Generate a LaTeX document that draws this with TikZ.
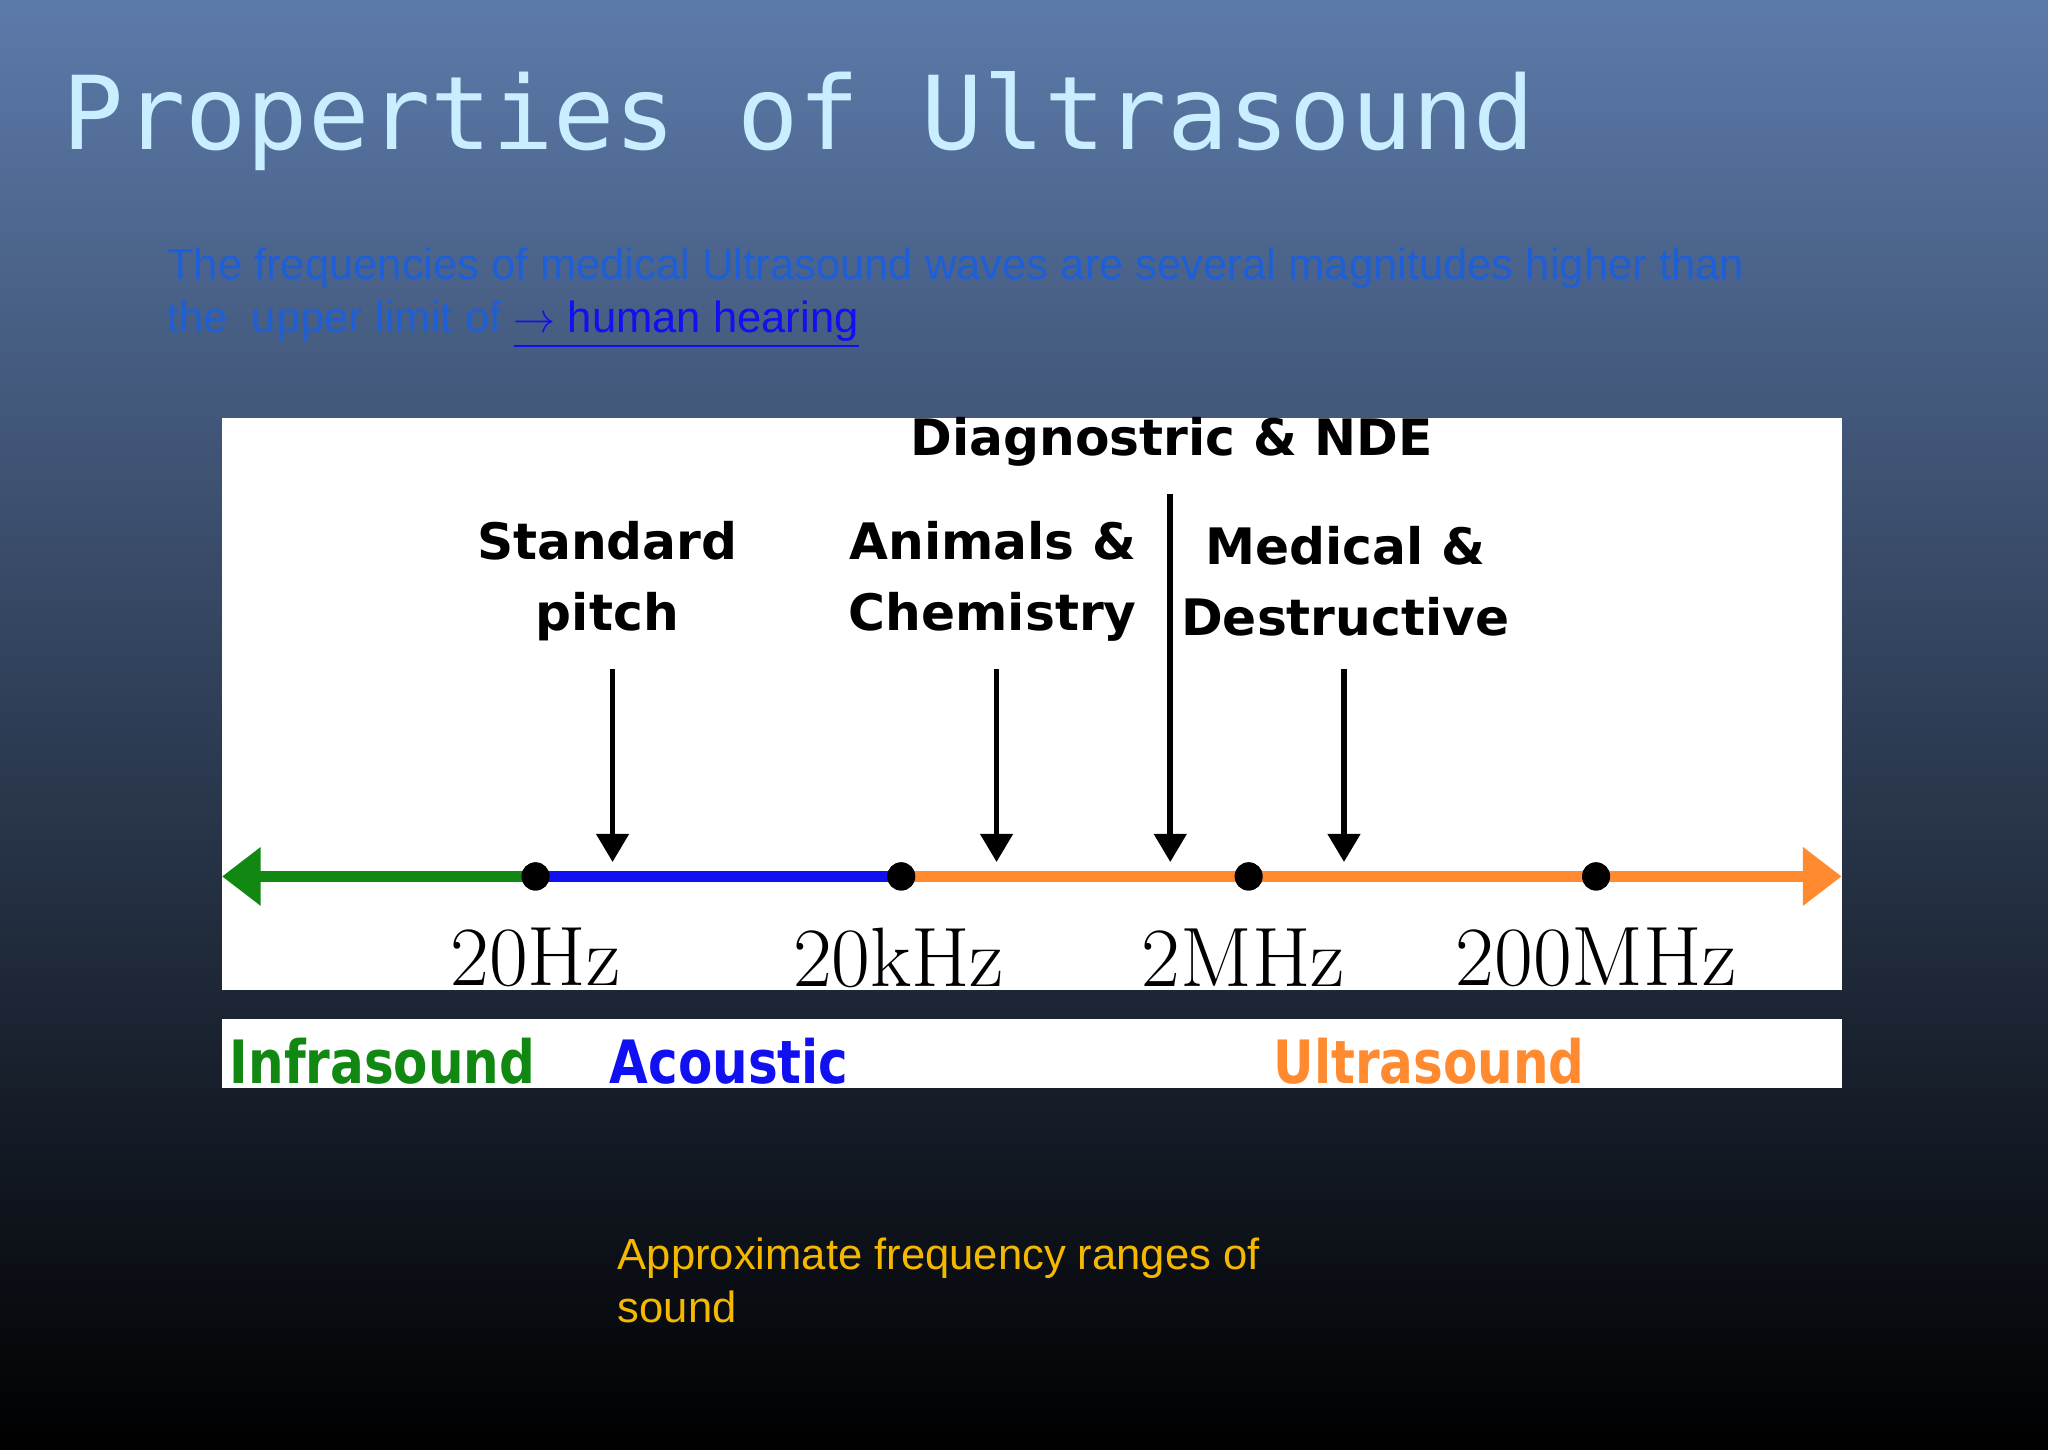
\documentclass[tikz,border=0pt]{standalone}
\usepackage{fontspec}
\setmainfont{Liberation Sans}
\newfontfamily\monofont{DejaVu Sans Mono}
\newfontfamily\labelfont{DejaVu Sans}
\newfontfamily\bandfont{DejaVu Sans Condensed}
\newfontfamily\cmfont{Latin Modern Roman}
\usetikzlibrary{arrows.meta,positioning}
\definecolor{titlecol}{HTML}{C8EEFF}
\definecolor{introcol}{HTML}{1E5FD8}
\definecolor{captcol}{HTML}{F5B800}
\definecolor{infracol}{HTML}{118811}
\definecolor{acoucol}{HTML}{1010F0}
\definecolor{ultracol}{HTML}{FF8A30}

\begin{document}
\begin{tikzpicture}[x=0.01306cm, y=-0.01306cm,
    every node/.style = {inner sep=0pt, outer sep=0pt},
         label/.style = {font=\labelfont\bfseries\fontsize{14.3}{20}\selectfont, align=center, text=black},
          freq/.style = {font=\cmfont\fontsize{24}{26}\selectfont, text=black},
          band/.style = {font=\bandfont\bfseries\fontsize{17}{20}\selectfont, anchor=north west, xscale=0.93},
           dot/.style = {circle, fill=black, minimum size=8pt},
         point/.style = {line width=1.6pt, -{Triangle[width=9pt,length=8pt]}},
          axis/.style = {line width=3pt}]%
  % background
  \useasboundingbox (0,0) rectangle (1568,1110);
  \shade[top color={rgb,255:red,92;green,122;blue,170}, middle color={rgb,255:red,42;green,55;blue,80},
         bottom color=black] (0,0) rectangle (1568,1110);
  % title and intro
  \node (title) [anchor=west, text=titlecol, font=\monofont\fontsize{29}{32}\selectfont]
        at (48,93) {Properties of Ultrasound};
  \node (intro) [anchor=north west, text=introcol, align=left, font=\fontsize{12.4}{14.9}\selectfont]
        at (128,190) {The frequencies of medical Ultrasound waves are several magnitudes higher than\\
        the\ \ upper limit of {\color{acoucol}\underline{$\rightarrow$ human hearing}}};
  % white panels
  \fill[white] (170,320) rectangle (1410,758);
  \fill[white] (170,780) rectangle (1410,833);
  % axis
  \node (p1) [dot] at (410,671) {};
  \node (p2) [dot] at (690,671) {};
  \node (p3) [dot] at (956,671) {};
  \node (p4) [dot] at (1222,671) {};
  \coordinate (lend) at (170,671);
  \coordinate (rend) at (1410,671);
  \draw[axis, infracol, {Triangle[width=16pt,length=11pt]}-] (lend) -- (p1.center);
  \draw[axis, acoucol] (p1.center) -- (p2.center);
  \draw[axis, ultracol, -{Triangle[width=16pt,length=11pt]}] (p2.center) -- (rend);
  \foreach \p in {p1,p2,p3,p4} \node[dot] at (\p) {};
  % frequency labels
  \node (f1) [freq] at (410,733) {20Hz};
  \node (f2) [freq] at (688,733) {20kHz};
  \node (f3) [freq] at (952,733) {2MHz};
  \node (f4) [freq] at (1222,733) {200MHz};
  % application labels
  \node (std) [label] at (465,445) {Standard\\pitch};
  \node (ani) [label] at (760,445) {Animals \&\\Chemistry};
  \node (med) [label] at (1030,445) {Medical \&\\Destructive};
  \node (nde) [label] at (897,338) {Diagnostric \& NDE};
  \coordinate (s1) at (469,512); \coordinate (s2) at (469,660);
  \coordinate (a1) at (763,512); \coordinate (a2) at (763,660);
  \coordinate (d1) at (896,378); \coordinate (d2) at (896,660);
  \coordinate (m1) at (1029,512); \coordinate (m2) at (1029,660);
  \draw[point] (s1) -- (s2);
  \draw[point] (a1) -- (a2);
  \draw[point] (d1) -- (d2);
  \draw[point] (m1) -- (m2);
  % band names
  \begin{scope}
    \clip (170,780) rectangle (1410,833);
    \node (infra) [band, text=infracol] at (176,795) {Infrasound};
    \node (acou)  [band, text=acoucol]  at (467,795) {Acoustic};
    \node (ultra) [band, text=ultracol] at (975,795) {Ultrasound};
  \end{scope}
  % caption
  \node (capt) [anchor=north west, text=captcol, align=left, font=\fontsize{12.4}{14.9}\selectfont]
        at (473,948) {Approximate frequency ranges of\\sound};
\end{tikzpicture}
\end{document}
